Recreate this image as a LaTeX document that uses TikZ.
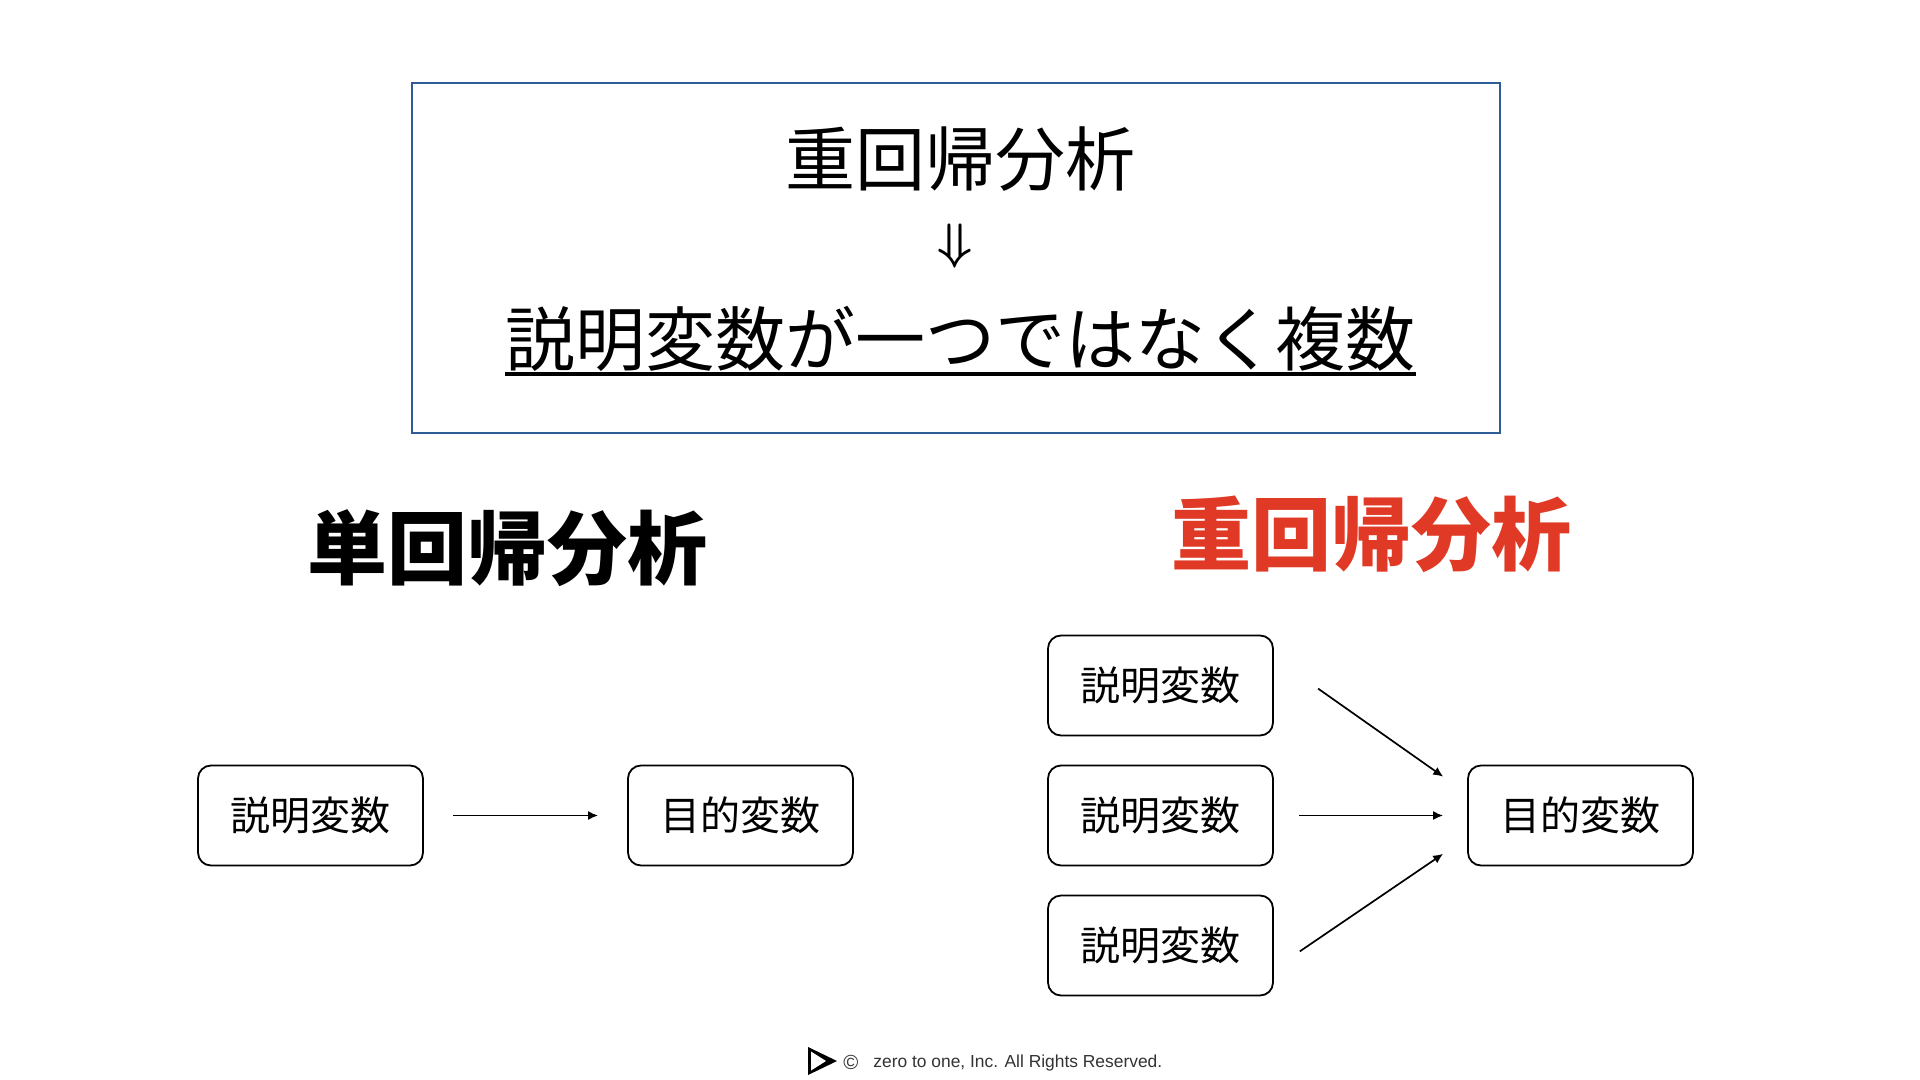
\documentclass[tikz,border=0pt]{standalone}
\usepackage{fontspec}
\usepackage{xcolor}
\setmainfont{Noto Sans CJK JP}
\newfontfamily\latinfont{Liberation Sans}
\usetikzlibrary{arrows.meta,positioning,calc}
\definecolor{frameblue}{HTML}{2F5C94}
\definecolor{headred}{HTML}{E03A26}
\definecolor{footgray}{HTML}{333333}
\tikzset{
    varbox/.style={draw=black, line width=0.9pt, rounded corners=6.5pt, minimum width=112.5pt, minimum height=50pt, inner sep=0pt, font=\fontsize{20}{24}\selectfont},
    headtext/.style={inner sep=0pt, font=\fontsize{40}{48}\selectfont\bfseries},
    bigtext/.style={inner sep=0pt, font=\fontsize{35}{42}\selectfont},
    link/.style={line width=0.85pt, -{Latex[length=5pt,width=4.5pt]}}
}
\begin{document}
\begin{tikzpicture}[x=0.5pt, y=-0.5pt]
    \useasboundingbox (0,0) rectangle (1920,1080);

    % Summary frame
    \node[draw=frameblue, line width=1pt, minimum width=544pt, minimum height=175pt, inner sep=0pt] (frame) at (956,258) {};
    \node[bigtext] (title) at (960,159) {重回帰分析};
    \node[inner sep=0pt, font=\fontsize{24}{28}\selectfont\boldmath] (implies) at (955,246) {$\Downarrow$};
    \node[bigtext, inner sep=0pt] (claim) at (960.5,339) {説明変数が一つではなく複数};
    \draw[line width=1.6pt] ([yshift=-1pt]claim.south west) -- ([yshift=-1pt]claim.south east);

    % Simple regression
    \node[headtext] (simplehead) at (507,548) {単回帰分析};
    \node[varbox] (simplevar) at (310.5,815.5) {説明変数};
    \node[varbox] (simpletarget) at (740.5,815.5) {目的変数};
    \draw[link, shorten <=14.5pt, shorten >=14.5pt] (simplevar.east) -- (simpletarget.west);

    % Multiple regression
    \node[headtext, text=headred] (multihead) at (1371,534) {重回帰分析};
    \node[varbox] (var1) at (1160.5,685.5) {説明変数};
    \node[varbox] (var2) at (1160.5,815.5) {説明変数};
    \node[varbox] (var3) at (1160.5,945.5) {説明変数};
    \node[varbox] (target) at (1580.5,815.5) {目的変数};
    \draw[link, shorten <=27pt, shorten >=14.6pt] ([yshift=14pt]var1.east) -- ([yshift=11pt]target.west);
    \draw[link, shorten <=12.5pt, shorten >=12pt] (var2.east) -- (target.west);
    \draw[link, shorten <=15.7pt, shorten >=14.5pt] ([yshift=-11.75pt]var3.east) -- ([yshift=-11pt]target.west);

    % Footer
    \fill[black] (808,1047) -- (837,1061) -- (808,1075) -- cycle;
    \fill[white] (811,1051.5) -- (826,1061) -- (811,1070.5) -- cycle;
    \node[inner sep=0pt, text=footgray, font=\latinfont\fontsize{10.2}{12}\selectfont] (copymark) at (851,1062) {©};
    \node[inner sep=0pt, anchor=west, text=footgray, font=\latinfont\fontsize{8.7}{10}\selectfont] (footer) at (873,1063) {zero to one, Inc. All Rights Reserved.};
\end{tikzpicture}
\end{document}
